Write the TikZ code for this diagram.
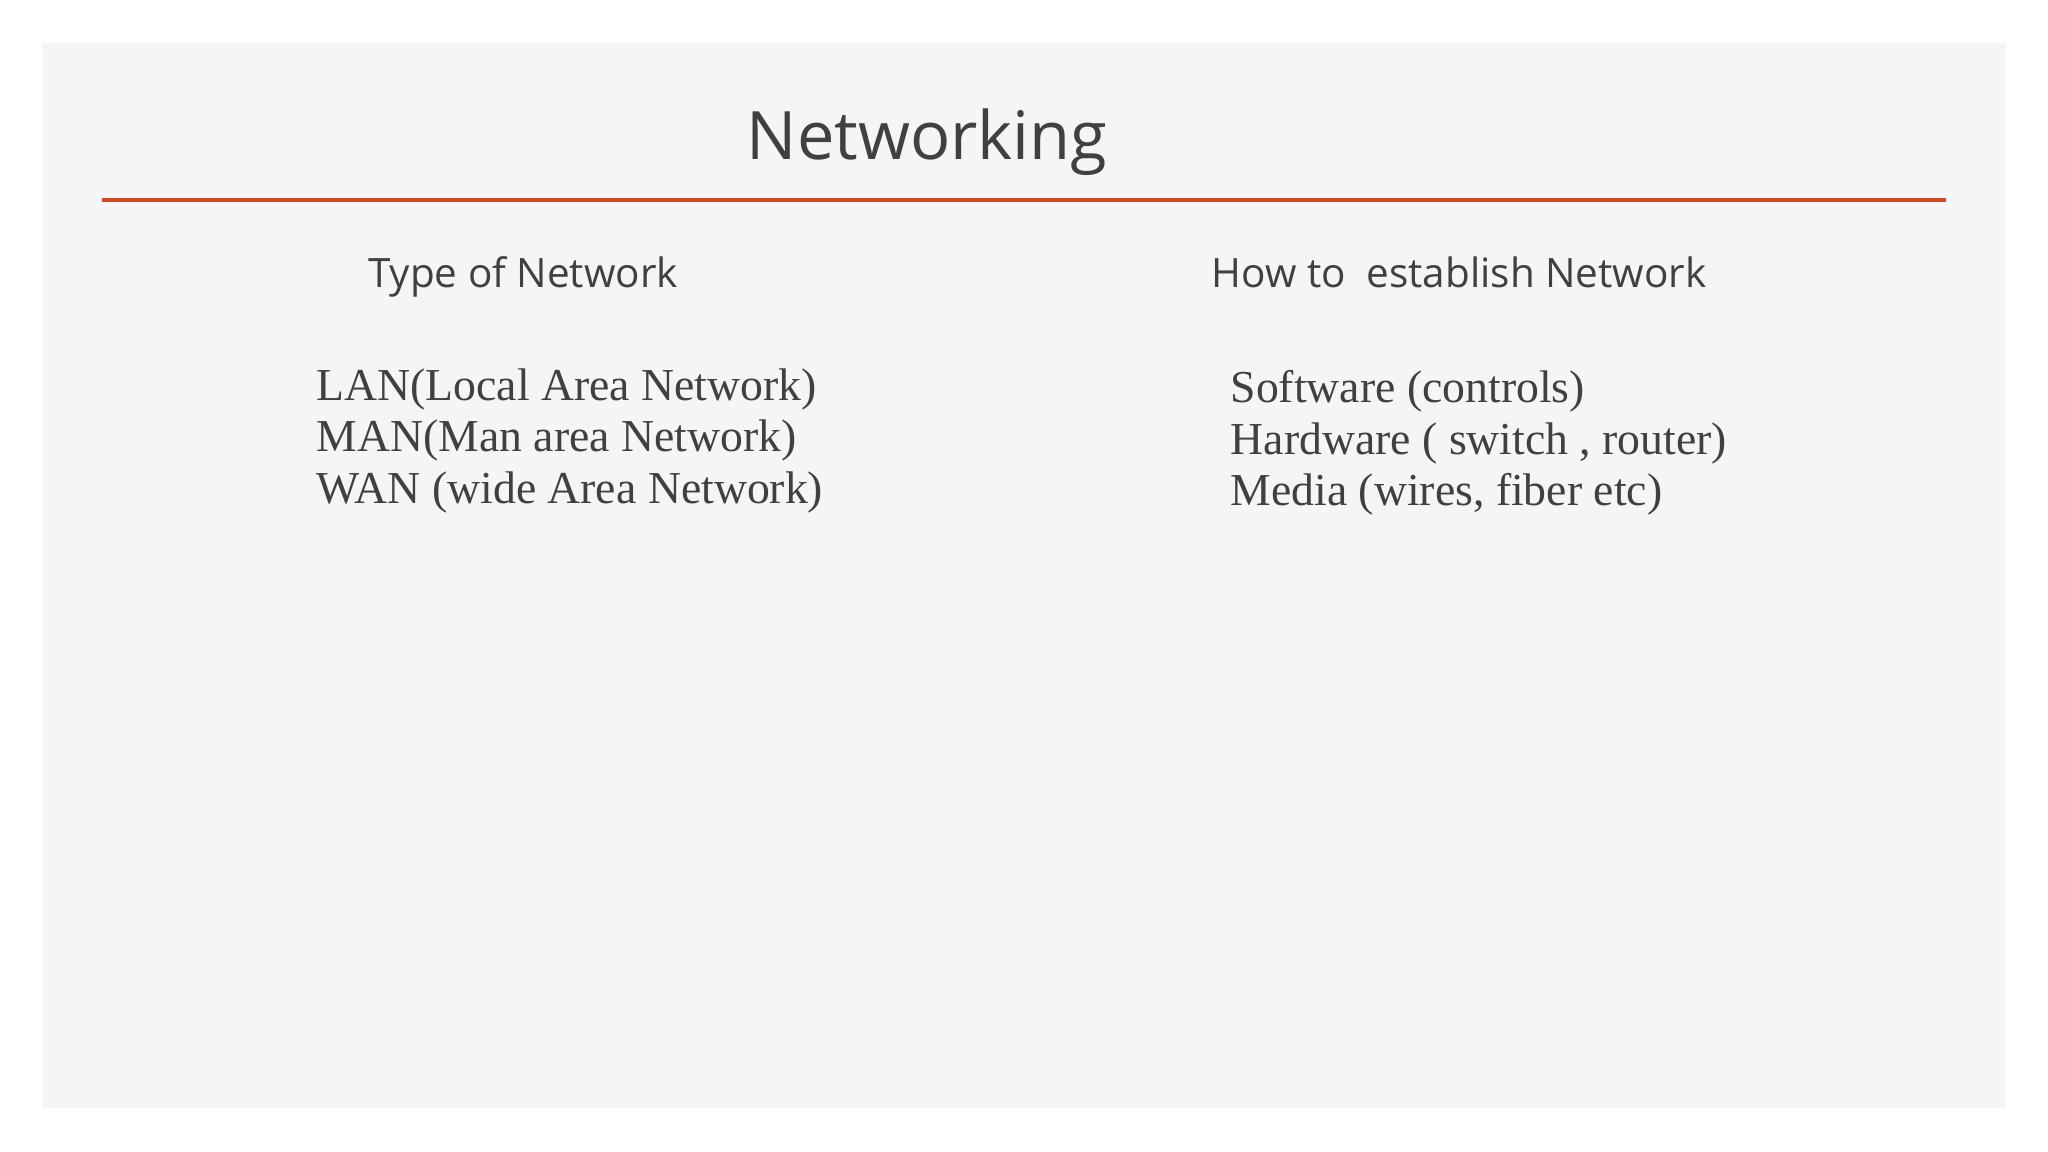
\documentclass[tikz,border=0pt]{standalone}
\usepackage{fontspec}
\setmainfont{Liberation Serif}
\newfontfamily\slidesans{Open Sans}
\usetikzlibrary{positioning}
\definecolor{slidebg}{HTML}{F5F5F5}
\definecolor{accentred}{HTML}{D24726}
\definecolor{textgray}{HTML}{404040}
\begin{document}
\begin{tikzpicture}[x=0.01cm,y=-0.01cm,
    heading/.style = {font=\slidesans\fontsize{11.5}{14}\selectfont, text=textgray, anchor=base},
    itemlist/.style = {font=\fontsize{13}{14.6}\selectfont, text=textgray, align=left, anchor=north west, inner sep=0pt},
  ]
  \useasboundingbox (0,0) rectangle (2048,1152);
  \fill[white] (0,0) rectangle (2048,1152);
  \fill[slidebg] (42,43) rectangle (2006,1108);

  \node[heading, font=\slidesans\fontsize{19}{22}\selectfont] (title) at (927,160) {Networking};
  \draw[accentred, line width=1.2pt] (102,200) -- (1946,200);

  \node[heading] (typehead) at (523,288) {Type of Network};
  \node[heading] (howhead) at (1459,288) {How to\ \ establish Network};

  \node[itemlist] (typelist) at (316,368) {LAN(Local Area Network)\\MAN(Man area Network)\\WAN (wide Area Network)};
  \node[itemlist] (howlist) at (1230,370) {Software (controls)\\Hardware ( switch , router)\\Media (wires, fiber etc)};
\end{tikzpicture}
\end{document}
